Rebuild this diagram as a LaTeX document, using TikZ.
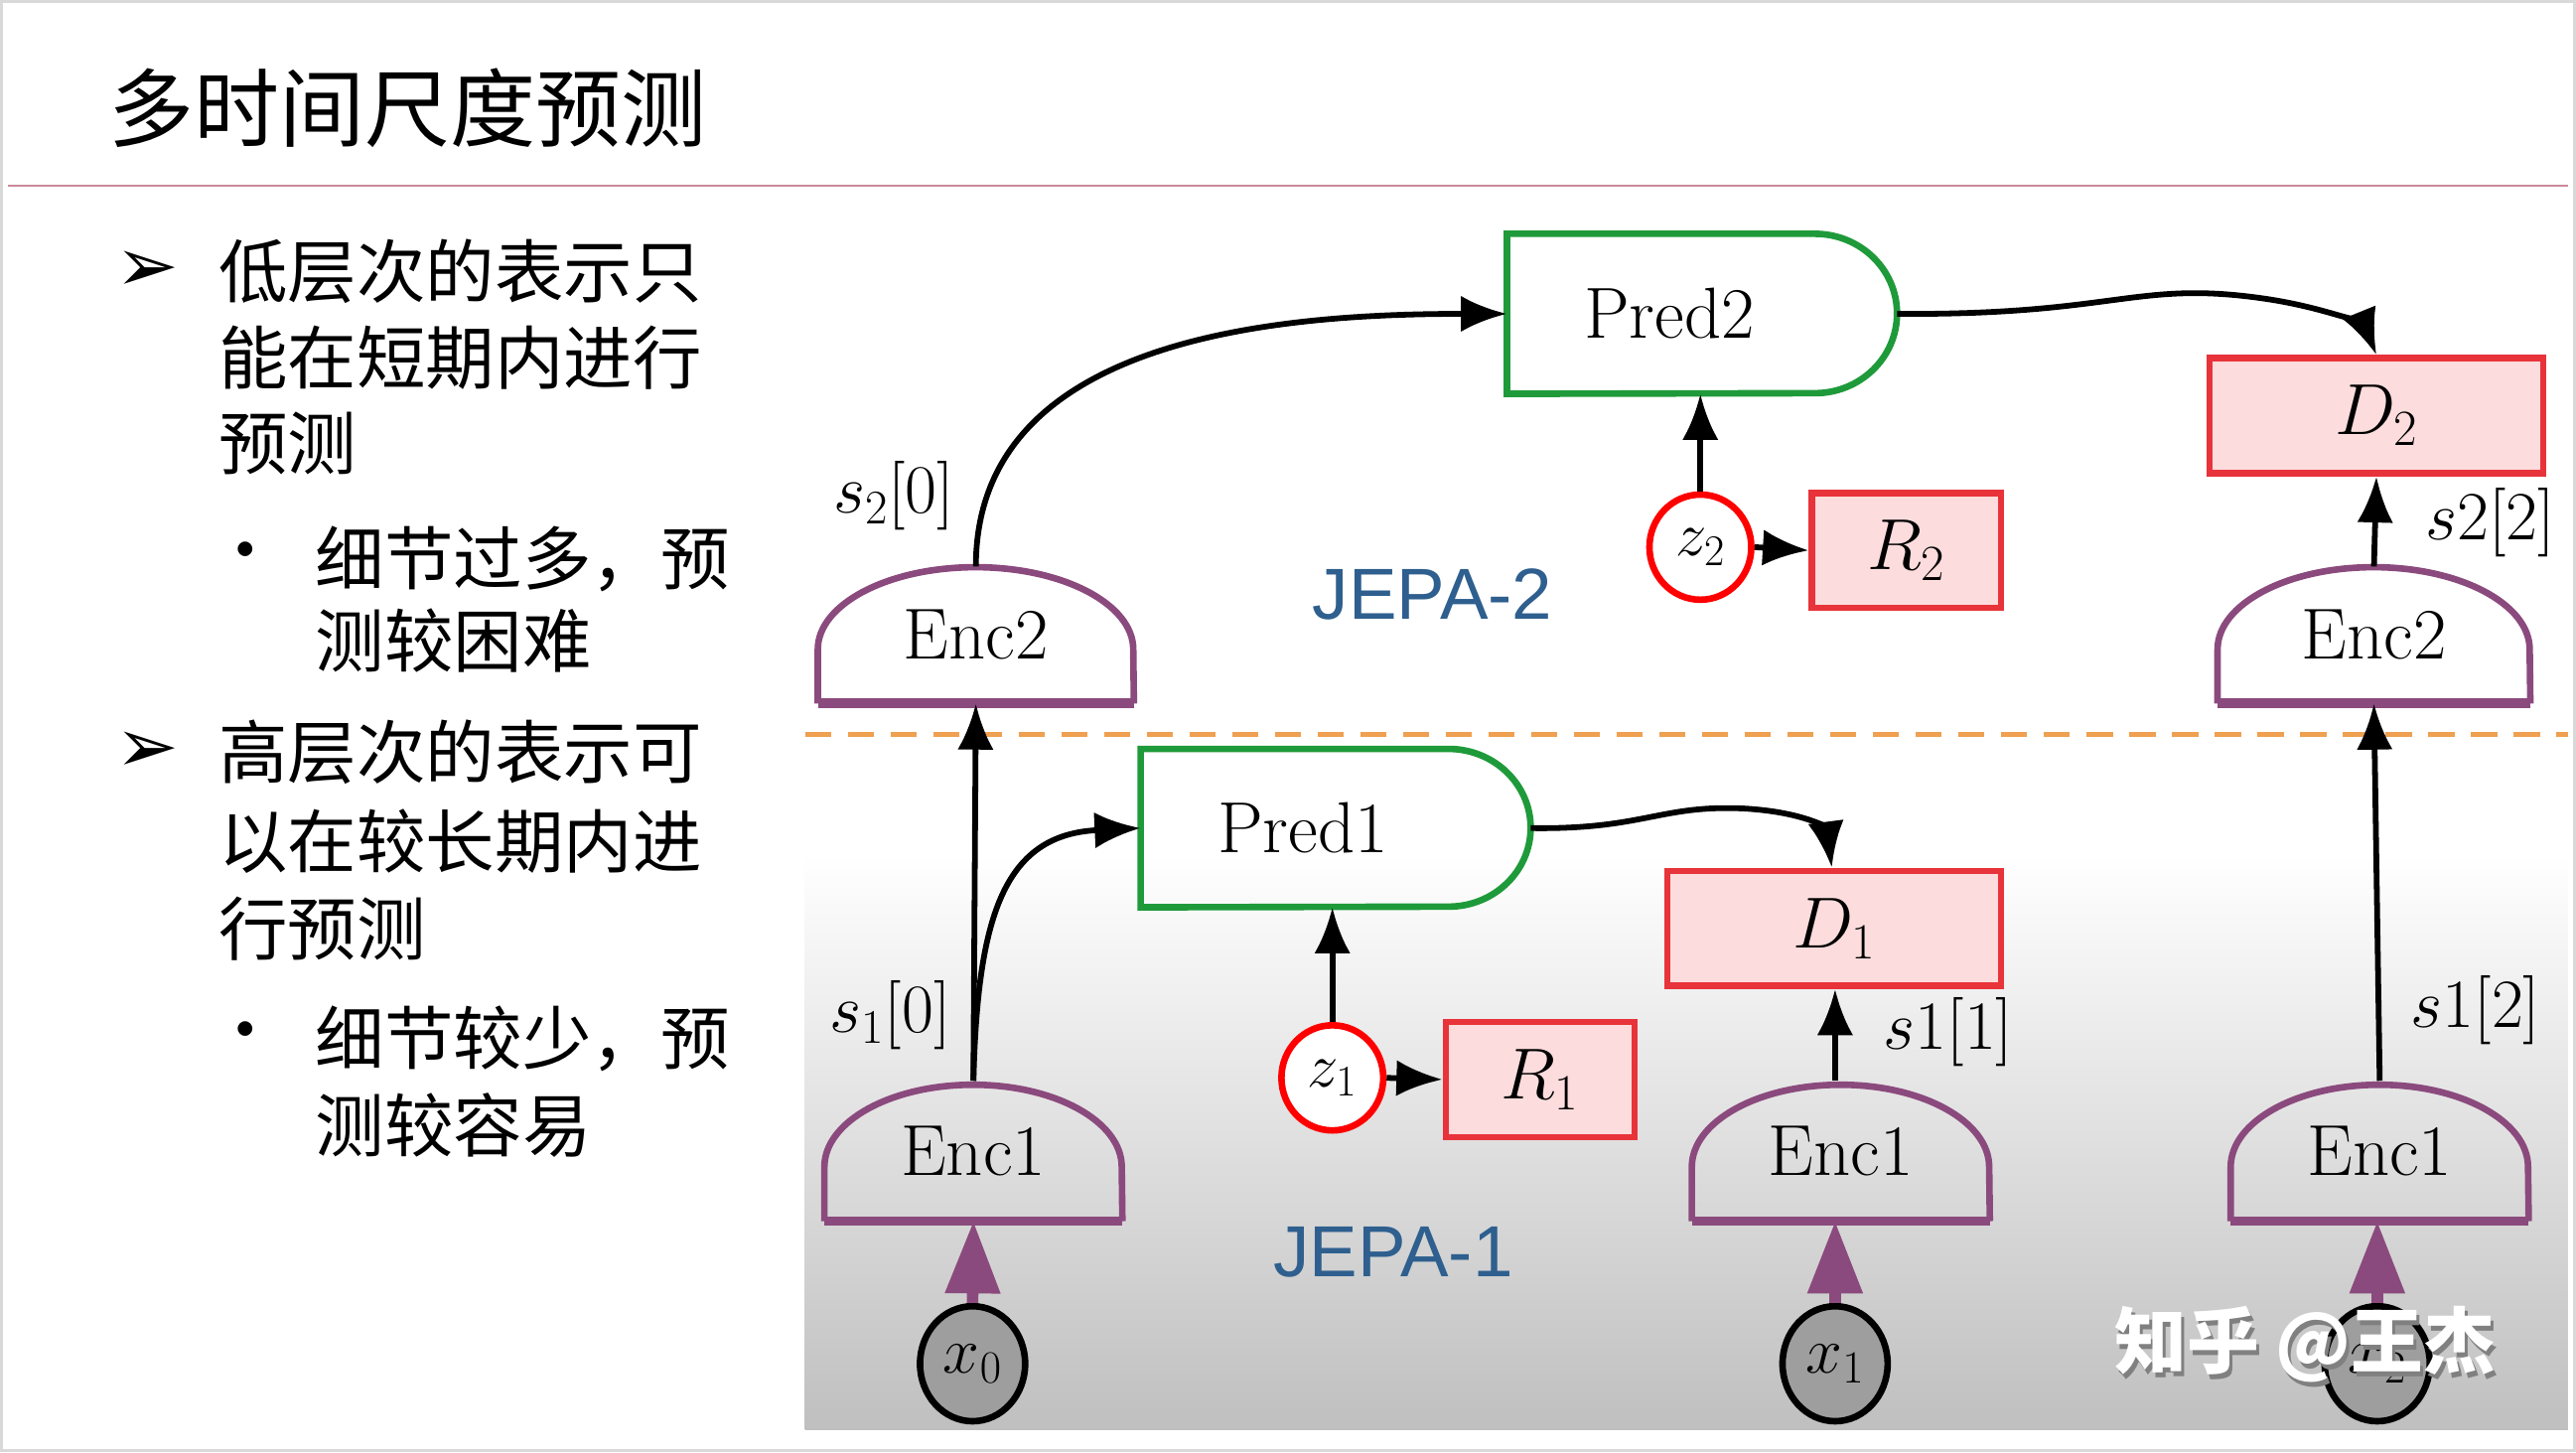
\RequirePackage{fix-cm}
\documentclass[tikz,border=0pt]{standalone}
\usepackage{fontspec}
\newfontfamily\cjk{Noto Sans CJK SC}
\newfontfamily\sans{Liberation Sans}
\newfontfamily\dejavu{DejaVu Sans}
\usetikzlibrary{arrows.meta,shapes.geometric}
\definecolor{pgreen}{HTML}{1F9A3A}
\definecolor{dred}{HTML}{E8333A}
\definecolor{dfill}{HTML}{FCDCDC}
\definecolor{epurple}{HTML}{8B4A7D}
\definecolor{jblue}{HTML}{2E5F8E}
\definecolor{dorange}{HTML}{EFA050}
\definecolor{tline}{HTML}{C98A9A}
\begin{document}
\begin{tikzpicture}[x=1pt,y=-1pt,
  dg/.style={font=\fontsize{44}{48}\selectfont},
  shp/.style={draw=none,minimum width=#1,inner sep=0pt},
  pred/.style={draw=pgreen,line width=4pt},
  enc/.style={draw=epurple,line width=4pt},
  dbox/.style={draw=dred,fill=dfill,line width=4pt,inner sep=0pt,dg},
  zc/.style={ellipse,draw=red,line width=4pt,fill=white,minimum width=62pt,minimum height=64pt,inner sep=0pt,font=\fontsize{38}{40}\selectfont},
  xc/.style={ellipse,draw=black,line width=4pt,fill=black!38,minimum width=64pt,minimum height=70pt,inner sep=0pt,font=\fontsize{40}{44}\selectfont},
  arr/.style={line width=3.5pt,-{Latex[length=28pt,width=22pt]}},
  parr/.style={draw=epurple,line width=7pt,-{Triangle[length=44pt,width=32pt]},color=epurple},
  lbl/.style={font=\fontsize{42}{44}\selectfont},
  jl/.style={text=jblue,font=\sans\fontsize{44}{48}\selectfont},
  cj/.style={font=\cjk\fontsize{42}{46}\selectfont,anchor=west,inner sep=0pt},
]
\useasboundingbox (0,0) rectangle (1568,884);
\fill[white] (0,0) rectangle (1568,884);
\draw[black!15,line width=2pt] (1,1) rectangle (1567,883);
% title
\node[font=\cjk\fontsize{52}{56}\selectfont,anchor=west,inner sep=0pt] (title) at (66,66) {多时间尺度预测};
\draw[tline,line width=1.5pt] (5,113) -- (1563,113);
% background shading
\shade[top color=white,bottom color=black!25] (490,520) rectangle (1563,870);
\draw[dorange,line width=3pt,dash pattern=on 16pt off 10pt] (490,447) -- (1563,447);
% left text
\node[cj,font=\dejavu\bfseries\fontsize{46}{48}\selectfont] (a1) at (70,165) {➢};
\node[cj] (t1) at (133,165) {低层次的表示只};
\node[cj] (t2) at (133,218) {能在短期内进行};
\node[cj] (t3) at (133,270) {预测};
\node[cj] (b1) at (128,340) {•};
\node[cj] (t4) at (192,340) {细节过多，预};
\node[cj] (t5) at (192,390) {测较困难};
\node[cj,font=\dejavu\bfseries\fontsize{46}{48}\selectfont] (a2) at (70,458) {➢};
\node[cj] (t6) at (133,458) {高层次的表示可};
\node[cj] (t7) at (133,512) {以在较长期内进};
\node[cj] (t8) at (133,565) {行预测};
\node[cj] (b2) at (128,632) {•};
\node[cj] (t9) at (192,632) {细节较少，预};
\node[cj] (t10) at (192,685) {测较容易};
% Pred nodes
\node[shp=237pt,minimum height=97pt,dg] (p2) at (1036,191) {\hspace*{-40pt}Pred2};
\draw[pred] (p2.north west) -- ([xshift=-50pt]p2.north east) arc[start angle=90,end angle=-90,x radius=50pt,y radius=48.5pt] -- (p2.south west) -- cycle;
\node[shp=237pt,minimum height=96pt,dg] (p1) at (813,504) {\hspace*{-40pt}Pred1};
\draw[pred] (p1.north west) -- ([xshift=-50pt]p1.north east) arc[start angle=90,end angle=-90,x radius=50pt,y radius=48pt] -- (p1.south west) -- cycle;
% Enc nodes
\newcommand{\encshape}[1]{\draw[enc] (#1.south west) -- ([yshift=33pt]#1.south west) arc[start angle=180,end angle=0,x radius=\encr,y radius=50pt] -- (#1.south east); \draw[epurple,line width=6pt] (#1.south west) -- (#1.south east);}
\def\encr{96pt}
\node[shp=192pt,minimum height=83pt,dg] (e2a) at (594,386.5) {\raisebox{-8pt}{Enc2}};
\encshape{e2a}
\node[shp=190pt,minimum height=83pt,dg] (e2b) at (1445,386.5) {\raisebox{-8pt}{Enc2}};
\def\encr{95pt}
\encshape{e2b}
\def\encr{90.5pt}
\node[shp=181pt,minimum height=85pt,dg] (e1a) at (592.5,700.5) {\raisebox{-8pt}{Enc1}};
\encshape{e1a}
\node[shp=181pt,minimum height=85pt,dg] (e1b) at (1120.5,700.5) {\raisebox{-8pt}{Enc1}};
\encshape{e1b}
\node[shp=181pt,minimum height=85pt,dg] (e1c) at (1448.5,700.5) {\raisebox{-8pt}{Enc1}};
\encshape{e1c}
% D and R boxes
\node[dbox,minimum width=203pt,minimum height=70pt] (d2) at (1446.5,253) {$D_2$};
\node[dbox,minimum width=203pt,minimum height=70pt] (d1) at (1116.5,565) {$D_1$};
\node[dbox,minimum width=115pt,minimum height=70pt] (r2) at (1160.5,335) {$R_2$};
\node[dbox,minimum width=115pt,minimum height=70pt] (r1) at (937.5,657) {$R_1$};
% z circles
\node[zc] (z2) at (1035,333) {$z_2$};
\node[zc] (z1) at (811,656) {$z_1$};
% x circles
\node[xc] (x0) at (592,830) {$x_0$};
\node[xc] (x1) at (1117,830) {$x_1$};
\node[xc] (x2) at (1447,830) {$x_2$};
% labels
\node[jl] (j2) at (872,362) {JEPA-2};
\node[jl] (j1) at (848,762) {JEPA-1};
\node[lbl] (ls20) at (544,302) {$s_2[0]$};
\node[lbl] (ls10) at (542,618) {$s_1[0]$};
\node[lbl] (ls11) at (1186,628) {$s1[1]$};
\node[lbl] (ls12) at (1507,615) {$s1[2]$};
\node[lbl] (ls22) at (1516,318) {$s2[2]$};
% connectors
\draw[arr] (e2a.north) to[out=90,in=180] (p2.west);
\draw[arr] (p2.east) .. controls (1290,192) and (1300,170) .. (1380,182) .. controls (1420,188) and (1440,200) .. (d2.north);
\draw[arr] (z2.north) -- (p2.south -| z2.north);
\draw[arr] (z2.east) -- (r2.west);
\draw[arr] (e2b.north) -- (d2.south);
\draw[arr] (e1a.north) -- (e2a.south);
\draw[arr] (e1a.north) .. controls (595,560) and (610,508) .. (p1.west);
\draw[arr] (p1.east) .. controls (1000,505) and (1010,490) .. (1060,492) .. controls (1100,494) and (1112,505) .. (d1.north -| 1115,0);
\draw[arr] (z1.north) -- (p1.south -| z1.north);
\draw[arr] (z1.east) -- (r1.west);
\draw[arr] (e1b.north -| 1117,0) -- (d1.south -| 1117,0);
\draw[arr] (e1c.north) -- (e2b.south);
\draw[parr] (x0.north) -- (e1a.south);
\draw[parr] (x1.north) -- (e1b.south -| x1.north);
\draw[parr] (x2.north) -- (e1c.south -| x2.north);
% watermark
\node[font=\cjk\bfseries\fontsize{44}{48}\selectfont,text=black!50] (wms) at (1405,821) {知乎 @王杰};
\node[font=\cjk\bfseries\fontsize{44}{48}\selectfont,text=white] (wm) at (1403,818) {知乎 @王杰};
\end{tikzpicture}
\end{document}
